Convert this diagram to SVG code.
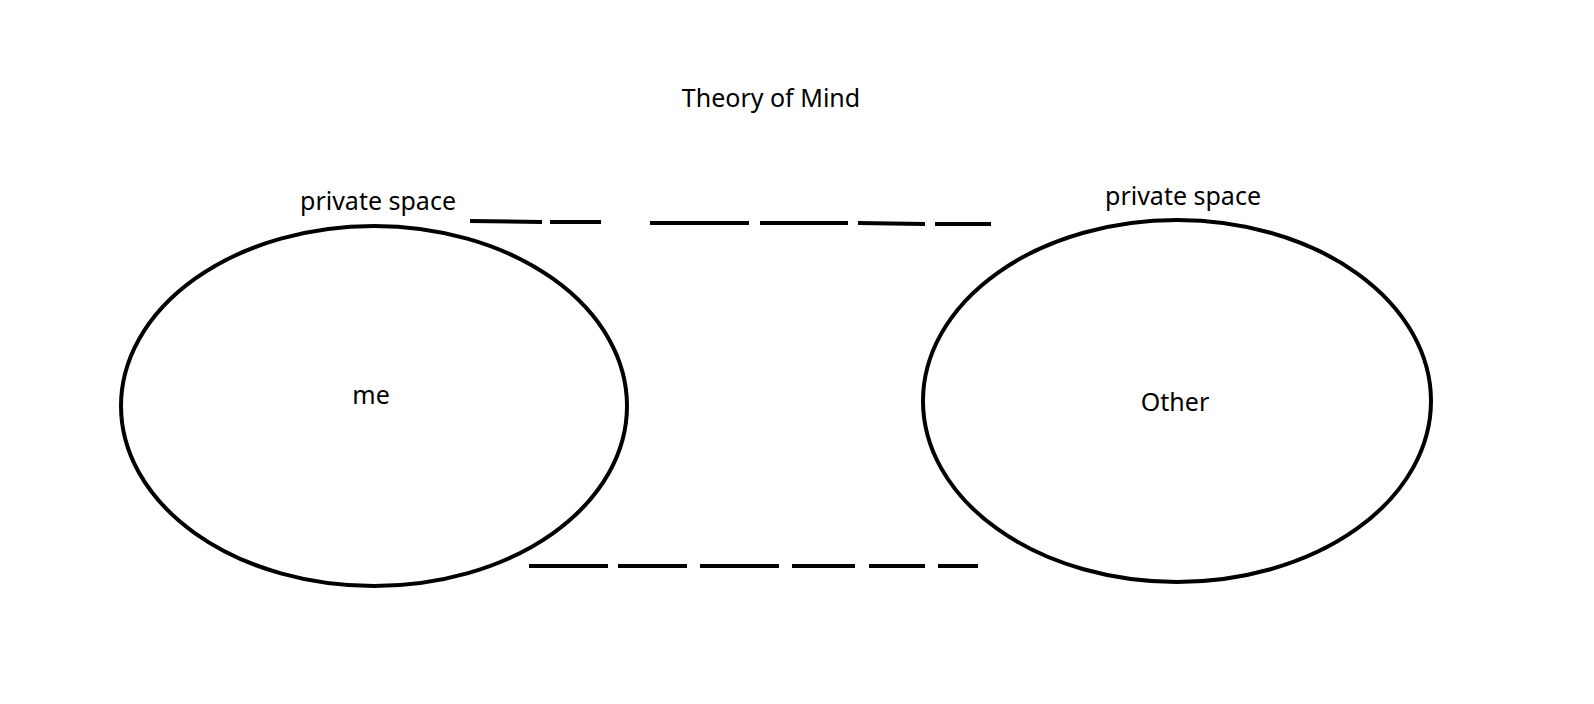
<svg xmlns="http://www.w3.org/2000/svg" width="1594" height="704" viewBox="0 0 1594 704">
<style>
.n{fill:none;stroke:#000;stroke-width:4}
.d{stroke:#000;stroke-width:4;stroke-linecap:butt}
text{font-family:"Noto Sans","Open Sans",sans-serif;font-size:25px;fill:#000;text-anchor:middle}
</style>
<rect width="1594" height="704" fill="#fff"/>
<text x="771" y="107">Theory of Mind</text>
<g id="me">
<ellipse class="n" cx="374" cy="406" rx="253" ry="180"/>
<text x="371" y="404">me</text>
<text x="378" y="210">private space</text>
</g>
<g id="other">
<ellipse class="n" cx="1177" cy="401" rx="254" ry="181"/>
<text x="1175" y="411">Other</text>
<text x="1183" y="205">private space</text>
</g>
<g id="connectors">
<line class="d" x1="470" y1="221" x2="542" y2="222"/>
<line class="d" x1="550" y1="222" x2="601" y2="222"/>
<line class="d" x1="650" y1="223" x2="749" y2="223"/>
<line class="d" x1="760" y1="223" x2="848" y2="223"/>
<line class="d" x1="858" y1="223" x2="925" y2="224"/>
<line class="d" x1="935" y1="224" x2="991" y2="224"/>
<line class="d" x1="529" y1="566" x2="608" y2="566"/>
<line class="d" x1="618" y1="566" x2="687" y2="566"/>
<line class="d" x1="700" y1="566" x2="779" y2="566"/>
<line class="d" x1="792" y1="566" x2="855" y2="566"/>
<line class="d" x1="869" y1="566" x2="925" y2="566"/>
<line class="d" x1="938" y1="566" x2="978" y2="566"/>
</g>
</svg>
